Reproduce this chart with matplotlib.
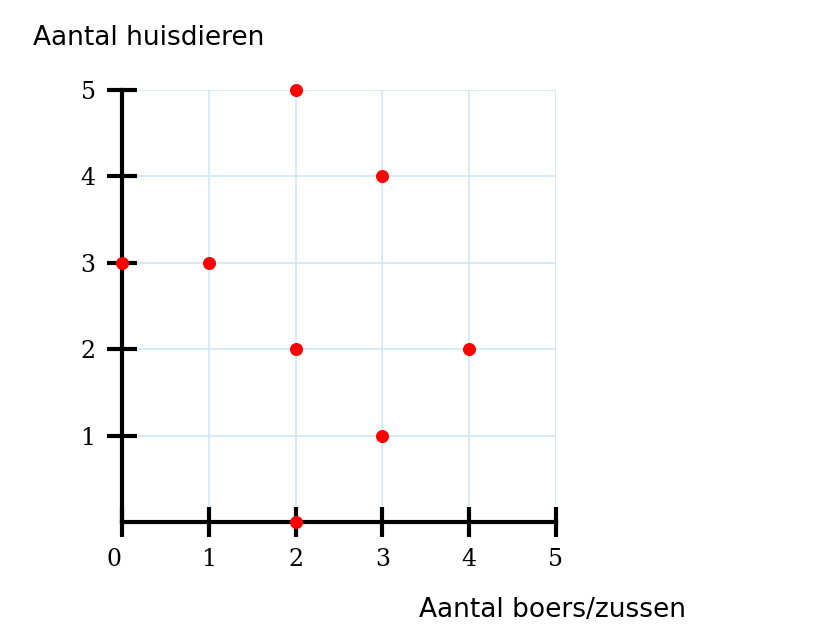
import matplotlib
matplotlib.use("Agg")
import matplotlib.pyplot as plt

x_vals = [0, 1, 2, 3, 2, 4, 3, 2]
y_vals = [3, 3, 5, 4, 2, 2, 1, 0]
x_ticks = [0, 1, 2, 3, 4, 5]
y_ticks = [1, 2, 3, 4, 5]

fig = plt.figure(figsize=(8.24, 6.44), dpi=100)
ax = fig.add_axes([122/824, 122/644, 434/824, 432/644])
ax.set_xlim(0, 5)
ax.set_ylim(0, 5)
for v in [1, 2, 3, 4, 5]:
    ax.axvline(v, color="#cfe6f7", lw=1.2, zorder=0)
    ax.axhline(v, color="#cfe6f7", lw=1.2, zorder=0)
for s in ["top", "right"]:
    ax.spines[s].set_visible(False)
for s in ["left", "bottom"]:
    ax.spines[s].set_linewidth(3)
    ax.spines[s].set_capstyle("projecting")
ax.set_xticks(x_ticks)
ax.set_yticks(y_ticks)
ax.set_xticklabels([str(t) for t in x_ticks], family="DejaVu Serif", fontsize=17)
ax.set_yticklabels([str(t) for t in y_ticks], family="DejaVu Serif", fontsize=17)
ax.tick_params(axis="both", direction="inout", length=22, width=3, pad=8)
ax.xaxis.get_major_ticks()[0].label1.set_horizontalalignment("right")
ax.scatter(x_vals, y_vals, color="#ff0000", s=70, zorder=5, clip_on=False)
fig.text(33/824, 1 - 38/644, "Aantal huisdieren", fontsize=19, va="center", ha="left")
fig.text(686/824, 1 - 610/644, "Aantal boers/zussen", fontsize=19, va="center", ha="right")
fig.savefig("out.png", dpi=100)
